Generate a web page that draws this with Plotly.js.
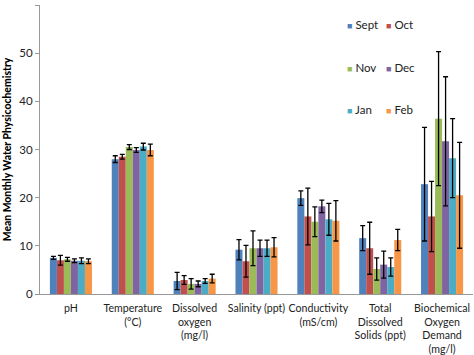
<!DOCTYPE html>
<html><head><meta charset="utf-8">
<script src="https://cdn.plot.ly/plotly-3.0.1.min.js"></script>
<style>html,body{margin:0;padding:0;background:#fff}#chart{width:474px;height:355px}</style>
</head><body><div id="chart"></div>
<script>
const categories = ["pH", "Temperature<br>(°C)", "Dissolved<br>oxygen<br>(mg/l)", "Salinity (ppt)", "Conductivity<br>(mS/cm)", "Total<br>Dissolved<br>Solids (ppt)", "Biochemical<br>Oxygen<br>Demand<br>(mg/l)"];
const months = ["Sept", "Oct", "Nov", "Dec", "Jan", "Feb"];
const colors = ["#4F81BD", "#C0504D", "#9BBB59", "#8064A2", "#4BACC6", "#F79646"];
const sept = [7.5, 28.0, 2.7, 9.2, 19.9, 11.6, 22.8];
const oct  = [7.0, 28.5, 2.9, 6.8, 16.1, 9.5, 16.1];
const nov  = [7.2, 30.5, 2.1, 9.5, 15.0, 5.2, 36.4];
const dec  = [6.9, 29.9, 2.1, 9.5, 18.2, 6.1, 31.7];
const jan  = [6.9, 30.6, 2.7, 9.5, 15.5, 5.6, 28.2];
const feb  = [6.8, 29.9, 3.2, 9.7, 15.2, 11.2, 20.5];
const septErr = [0.3, 0.7, 1.8, 2.1, 1.5, 2.6, 11.8];
const octErr  = [1.0, 0.5, 0.9, 3.3, 5.9, 5.4, 7.3];
const novErr  = [0.4, 0.5, 1.1, 3.6, 3.1, 2.3, 13.9];
const decErr  = [0.4, 0.5, 0.6, 1.7, 1.3, 2.8, 13.4];
const janErr  = [0.6, 0.7, 0.5, 1.7, 3.3, 1.9, 8.2];
const febErr  = [0.5, 1.2, 0.9, 2.0, 4.2, 2.2, 11.0];

const series = [sept, oct, nov, dec, jan, feb];
const errs = [septErr, octErr, novErr, decErr, janErr, febErr];

const traces = months.map((m, i) => ({
  type: "bar", name: m, x: categories, y: series[i],
  marker: {color: colors[i]},
  error_y: {type: "data", array: errs[i], visible: true, color: "#000", thickness: 1.3, width: 2.5}
}));

const fam = "Lato, Open Sans, Liberation Sans, sans-serif";
const xfont = {family: fam, size: 10.6, color: "#222"};
const yfont = {family: fam, size: 11.5, color: "#222"};

// Legend (2 columns x 3 rows) drawn as text annotations with coloured square glyphs
const legendX = [0.705, 0.795];
const legendY = [0.933, 0.785, 0.637];
const legendAnn = months.map((m, i) => ({
  xref: "paper", yref: "paper", xanchor: "left", yanchor: "middle",
  x: legendX[i % 2], y: legendY[Math.floor(i / 2)], showarrow: false,
  text: "<span style='color:" + colors[i] + ";font-size:9px'>■</span> " + m,
  font: {family: fam, size: 11.5, color: "#222"}
}));

const layout = {
  width: 474, height: 355,
  margin: {l: 40, r: 1, t: 5, b: 61},
  font: yfont,
  paper_bgcolor: "#fff", plot_bgcolor: "#fff",
  barmode: "group", bargap: 0.32, bargroupgap: 0,
  showlegend: false,
  xaxis: {showline: true, linecolor: "#999", linewidth: 1, ticks: "", tickangle: 0,
    tickfont: xfont, showgrid: false, automargin: false, ticklabelstandoff: 4},
  yaxis: {range: [0, 60], dtick: 10, showline: true, linecolor: "#999", linewidth: 1,
    ticks: "outside", ticklen: 4, tickcolor: "#999", showgrid: false, zeroline: false,
    tickfont: yfont, automargin: false,
    title: {text: "Mean Monthly Water Physicochemistry", font: {family: fam, size: 10.4, color: "#000", weight: 900}, standoff: 5}},
  annotations: legendAnn
};

Plotly.newPlot("chart", traces, layout, {displayModeBar: false, staticPlot: true});
</script></body></html>
